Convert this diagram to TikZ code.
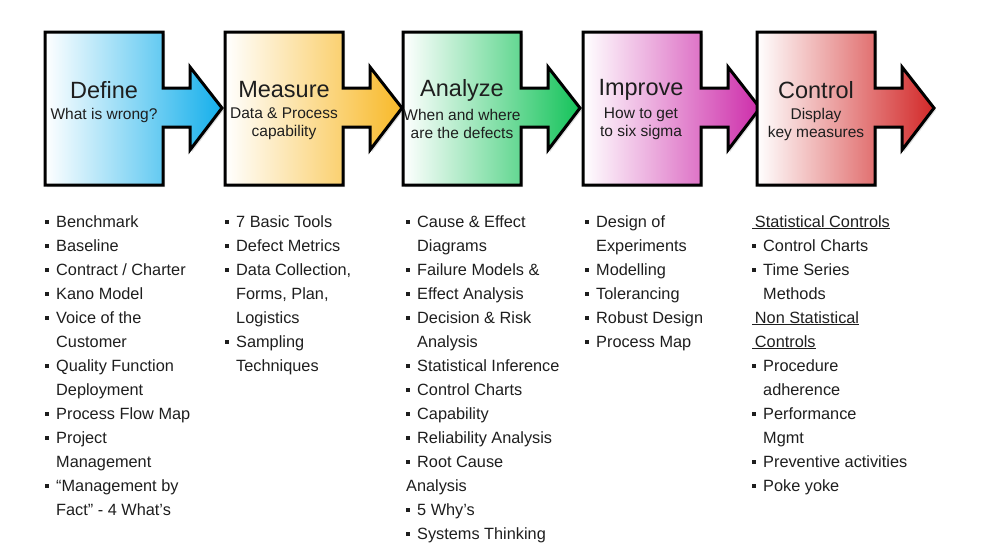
\documentclass[tikz,border=0pt]{standalone}
\usepackage{fontspec}
\setmainfont{Liberation Sans}
\usetikzlibrary{shadows}
\definecolor{cdef}{RGB}{20,175,235}
\definecolor{cmea}{RGB}{248,185,40}
\definecolor{cana}{RGB}{20,195,90}
\definecolor{cimp}{RGB}{205,45,170}
\definecolor{ccon}{RGB}{210,40,40}
\definecolor{txt}{RGB}{30,30,30}
\newcommand{\bl}{\makebox[11pt][l]{\rule[3.5pt]{4pt}{4pt}}}
\newcommand{\ind}{\hspace*{11pt}}
\newcommand{\ul}[1]{\underline{#1}}
\tikzset{
  stagebox/.style={line width=3pt, line join=miter, draw=black,
    left color=white, right color=#1,
    drop shadow={opacity=0.25, shadow xshift=2pt, shadow yshift=-2pt}},
  title/.style={font=\fontsize{23.5}{26}\selectfont, text=txt},
  sub/.style={font=\fontsize{15.5}{18}\selectfont, text=txt, align=center},
  list/.style={anchor=north west, align=left, text=txt, inner sep=0pt,
    font=\fontsize{16.3}{24}\selectfont}
}
\newcommand{\stage}[2]{%
  \path[stagebox=#2] (#1,32) -- ++(118,0) -- ++(0,56) -- ++(27,0) -- ++(0,-21)
    -- ++(32,41) -- ++(-32,42) -- ++(0,-23) -- ++(-27,0) -- ++(0,58)
    -- ++(-118,0) -- cycle;}
\begin{document}
\begin{tikzpicture}[x=1pt,y=-1pt]
\useasboundingbox (0,0) rectangle (1000,554);
\stage{45}{cdef}
\stage{225}{cmea}
\stage{403}{cana}
\stage{583}{cimp}
\stage{757}{ccon}
\node[title] (t1) at (104,90) {Define};
\node[sub] (s1) at (104,115) {What is wrong?};
\node[title] (t2) at (284,90) {Measure};
\node[sub] (s2) at (284,124) {Data \& Process\\capability};
\node[title] (t3) at (462,90) {Analyze};
\node[sub] (s3) at (462,124) {When and where\\are the defects};
\node[title] (t4) at (641,90) {Improve};
\node[sub] (s4) at (641,124) {How to get\\to six sigma};
\node[title] (t5) at (816,90) {Control};
\node[sub] (s5) at (816,124) {Display\\key measures};
\node[list] (l1) at (45,215) {\bl Benchmark\\ \bl Baseline\\ \bl Contract / Charter\\ \bl Kano Model\\ \bl Voice of the\\ \ind Customer\\ \bl Quality Function\\ \ind Deployment\\ \bl Process Flow Map\\ \bl Project\\ \ind Management\\ \bl ``Management by\\ \ind Fact'' - 4 What's};
\node[list] (l2) at (225,215) {\bl 7 Basic Tools\\ \bl Defect Metrics\\ \bl Data Collection,\\ \ind Forms, Plan,\\ \ind Logistics\\ \bl Sampling\\ \ind Techniques};
\node[list] (l3) at (406,215) {\bl Cause \& Effect\\ \ind Diagrams\\ \bl Failure Models \&\\ \bl Effect Analysis\\ \bl Decision \& Risk\\ \ind Analysis\\ \bl Statistical Inference\\ \bl Control Charts\\ \bl Capability\\ \bl Reliability Analysis\\ \bl Root Cause\\ Analysis\\ \bl 5 Why's\\ \bl Systems Thinking};
\node[list] (l4) at (585,215) {\bl Design of\\ \ind Experiments\\ \bl Modelling\\ \bl Tolerancing\\ \bl Robust Design\\ \bl Process Map};
\node[list] (l5) at (752,215) {\ul{\,Statistical Controls}\\ \bl Control Charts\\ \bl Time Series\\ \ind Methods\\ \ul{\,Non Statistical}\\ \ul{\,Controls}\\ \bl Procedure\\ \ind adherence\\ \bl Performance\\ \ind Mgmt\\ \bl Preventive activities\\ \bl Poke yoke};
\end{tikzpicture}
\end{document}
